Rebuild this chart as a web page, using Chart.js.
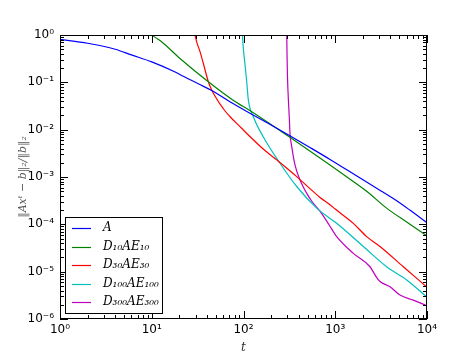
<!DOCTYPE html>
<html><head><meta charset="utf-8">
<script src="https://cdn.jsdelivr.net/npm/chart.js@4/dist/chart.umd.min.js"></script>
<style>html,body{margin:0;padding:0;background:#fff}</style>
</head><body>
<canvas id="c" width="474" height="355"></canvas>
<script>
const seriesNames = ['A', 'D₁₀AE₁₀', 'D₃₀AE₃₀', 'D₁₀₀AE₁₀₀', 'D₃₀₀AE₃₀₀'];
const seriesColors = ['#0000ff', '#008000', '#ff0000', '#00bfbf', '#bf00bf'];

const tA = [1, 2, 4, 6, 10, 18, 20, 33, 45, 71, 130, 300, 530, 877, 2023, 3000, 4500, 6500, 10000];
const yA = [0.81, 0.67, 0.5, 0.38, 0.27, 0.165, 0.148, 0.091, 0.067, 0.039, 0.02, 0.008, 0.0042, 0.00235, 0.00086, 0.00054, 0.00033, 0.0002, 0.000108];

const tD10 = [10, 11, 12.8, 20.3, 41.4, 77, 123, 321, 877, 1450, 2200, 3630, 6000, 10000];
const yD10 = [1.0, 0.88, 0.72, 0.32, 0.103, 0.042, 0.024, 0.0069, 0.00179, 0.0009, 0.0005, 0.00022, 0.000112, 0.000057];

const tD30 = [29.6, 31, 33.5, 36.5, 41.4, 45, 60, 71, 95.5, 108, 164, 230, 380, 577, 682, 877, 1000, 1574, 2200, 3075, 5520, 10000];
const yD30 = [1.0, 0.7, 0.45, 0.25, 0.103, 0.069, 0.028, 0.019, 0.0107, 0.0084, 0.0039, 0.0023, 0.00102, 0.00049, 0.00037, 0.00026, 0.00021, 0.000105, 0.000055, 0.000034, 0.0000127, 0.0000047];

const tD100 = [97.5, 99, 104, 108, 113, 128, 164, 250, 380, 628, 1037, 2023, 3630, 6010, 10000];
const yD100 = [1.0, 0.6, 0.23, 0.112, 0.042, 0.0188, 0.0071, 0.00195, 0.00063, 0.00022, 0.000105, 0.000034, 0.0000127, 0.0000067, 0.0000029];

const tD300 = [296, 298, 301, 305, 310, 316, 321, 335, 364, 420, 489, 560, 682, 850, 1037, 1574, 2393, 2830, 3075, 3950, 5080, 7080, 10000];
const yD300 = [1.0, 0.4, 0.15, 0.07, 0.035, 0.017, 0.0084, 0.0045, 0.0018, 0.0008, 0.00045, 0.0003, 0.00019, 0.0001, 0.000055, 0.0000244, 0.0000127, 0.0000075, 0.0000062, 0.0000048, 0.0000032, 0.0000025, 0.0000019];

const xTickValues = [1, 10, 100, 1000, 10000];
const xTickLabels = ['10⁰', '10¹', '10²', '10³', '10⁴'];
const yTickValues = [1, 0.1, 0.01, 0.001, 0.0001, 0.00001, 0.000001];
const yTickLabels = ['10⁰', '10⁻¹', '10⁻²', '10⁻³', '10⁻⁴', '10⁻⁵', '10⁻⁶'];
const xTitle = 't';
const yTitle = '‖Axᵗ − b‖₂/‖b‖₂';

const seriesT = [tA, tD10, tD30, tD100, tD300];
const seriesY = [yA, yD10, yD30, yD100, yD300];

const datasets = seriesNames.map((name, i) => ({
  label: name,
  data: seriesT[i].map((t, j) => ({x: t, y: seriesY[i][j]})),
  borderColor: seriesColors[i],
  backgroundColor: seriesColors[i],
  borderWidth: 1.2,
  pointRadius: 0,
  fill: false,
  cubicInterpolationMode: 'monotone'
}));

const frameTicks = {
  id: 'frameTicks',
  afterDatasetsDraw(chart) {
    const {ctx, chartArea: {left, right, top, bottom}, scales: {x, y}} = chart;
    ctx.save();
    ctx.strokeStyle = '#000';
    ctx.lineWidth = 1;
    ctx.beginPath();
    const tickX = (v, len) => {
      const px = Math.round(x.getPixelForValue(v)) + 0.5;
      ctx.moveTo(px, bottom); ctx.lineTo(px, bottom - len);
      ctx.moveTo(px, top); ctx.lineTo(px, top + len);
    };
    const tickY = (v, len) => {
      const py = Math.round(y.getPixelForValue(v)) + 0.5;
      ctx.moveTo(left, py); ctx.lineTo(left + len, py);
      ctx.moveTo(right, py); ctx.lineTo(right - len, py);
    };
    for (let d = 0; d <= 4; d++) {
      tickX(Math.pow(10, d), 8);
      if (d < 4) for (let k = 2; k <= 9; k++) tickX(k * Math.pow(10, d), 4);
    }
    for (let d = -6; d <= 0; d++) {
      tickY(Math.pow(10, d), 8);
      if (d < 0) for (let k = 2; k <= 9; k++) tickY(k * Math.pow(10, d), 4);
    }
    ctx.stroke();
    ctx.strokeRect(left + 0.5, top + 0.5, right - left - 1, bottom - top - 1);
    ctx.restore();
  },
  afterDraw(chart) {
    const {ctx} = chart;
    const bx = 65, by = 217, bw = 97, bh = 96;
    ctx.save();
    ctx.fillStyle = '#fff';
    ctx.fillRect(bx, by, bw, bh);
    ctx.strokeStyle = '#000';
    ctx.lineWidth = 1;
    ctx.strokeRect(bx + 0.5, by + 0.5, bw, bh);
    ctx.font = 'italic 12px "DejaVu Serif"';
    ctx.textBaseline = 'middle';
    chart.data.datasets.forEach((ds, i) => {
      const yy = 228 + i * 18.5;
      ctx.strokeStyle = ds.borderColor;
      ctx.lineWidth = 1.2;
      ctx.beginPath();
      ctx.moveTo(72, Math.round(yy) + 0.5);
      ctx.lineTo(91, Math.round(yy) + 0.5);
      ctx.stroke();
      ctx.fillStyle = '#000';
      ctx.fillText(ds.label, 103, yy);
    });
    ctx.restore();
  }
};

new Chart(document.getElementById('c'), {
  type: 'line',
  data: {datasets},
  plugins: [frameTicks],
  options: {
    responsive: false,
    animation: false,
    devicePixelRatio: 1,
    layout: {padding: {top: 35, right: 47, left: 0, bottom: 0}},
    plugins: {legend: {display: false}, tooltip: {enabled: false}},
    elements: {point: {radius: 0}},
    scales: {
      x: {
        type: 'logarithmic', min: 1, max: 10000,
        afterBuildTicks: s => { s.ticks = xTickValues.map(v => ({value: v})); },
        afterFit: s => { s.height = 36; },
        grid: {display: false, drawTicks: false},
        border: {display: false},
        ticks: {
          autoSkip: false, maxRotation: 0, padding: 4, color: '#000',
          font: {family: 'DejaVu Sans', size: 12},
          callback: (v, i) => xTickLabels[i]
        },
        title: {display: true, text: xTitle, color: '#333', padding: {top: 4, bottom: 0},
          font: {family: 'DejaVu Serif', style: 'italic', size: 12}}
      },
      y: {
        type: 'logarithmic', min: 0.000001, max: 1,
        afterBuildTicks: s => { s.ticks = yTickValues.map(v => ({value: v})); },
        afterFit: s => { s.width = 60; },
        grid: {display: false, drawTicks: false},
        border: {display: false},
        ticks: {
          autoSkip: false, padding: 6, color: '#000',
          font: {family: 'DejaVu Sans', size: 12},
          callback: (v, i) => yTickLabels[i]
        },
        title: {display: true, text: yTitle, color: '#555', padding: {top: 17, bottom: 0},
          font: {family: 'DejaVu Serif', style: 'italic', size: 11}}
      }
    }
  }
});
</script>
</body></html>
